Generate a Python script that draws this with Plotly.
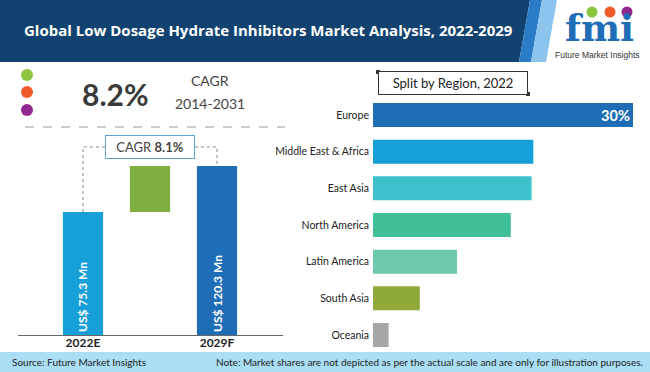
import plotly.graph_objects as go

W, H = 650, 372

def px(x):
    return x / W

def py(y):
    return 1 - y / H

# ---------------- data ----------------
title_text = "Global Low Dosage Hydrate Inhibitors Market Analysis, 2022-2029"
years = ["2022E", "2029F"]
market_values = [75.3, 120.3]
value_labels = ["US$ 75.3 Mn", "US$ 120.3 Mn"]
cagr_forecast = "8.1%"
cagr_headline = "8.2%"
cagr_period = "2014-2031"

regions = ["Europe", "Middle East & Africa", "East Asia", "North America",
           "Latin America", "South Asia", "Oceania"]
region_share = [30, 18.5, 18.3, 15.9, 9.7, 5.4, 1.8]
region_labels = ["30%", "", "", "", "", "", ""]
region_title = "Split by Region, 2022"

source_text = "Source: Future Market Insights"
note_text = "Note: Market shares are not depicted as per the actual scale and are only for illustration purposes."

# ---------------- styles ----------------
NAVY = "#12426f"
BLUE_DARK = "#1f6db6"
BLUE_LIGHT = "#179fda"
GREEN = "#7fb03f"
region_colors = ["#1f6db6", "#179fda", "#3fc1cd", "#40bf98", "#6ec8ad", "#8fa93b", "#a6a6a6"]
Y_FLOOR = -45  # visual floor of the (not-to-scale) market bars

fig = go.Figure()

# Market size bars (2022E, 2029F)
fig.add_trace(go.Bar(
    x=[0, 2], y=[v - Y_FLOOR for v in market_values], base=Y_FLOOR,
    marker=dict(color=[BLUE_LIGHT, BLUE_DARK], line=dict(width=0)),
    width=0.6, text=value_labels, textangle=-90, textposition="inside",
    insidetextanchor="start",
    textfont=dict(family="Lato", size=12, color="white", weight="bold"),
    cliponaxis=False, hoverinfo="skip", xaxis="x", yaxis="y", showlegend=False,
))
# Incremental growth bar
fig.add_trace(go.Bar(
    x=[1], y=[market_values[1] - market_values[0]], base=market_values[0],
    marker=dict(color=GREEN, line=dict(width=0)), width=0.6,
    hoverinfo="skip", xaxis="x", yaxis="y", showlegend=False,
))

# Region bars
fig.add_trace(go.Bar(
    y=regions, x=region_share, orientation="h",
    marker=dict(color=region_colors, line=dict(width=0)), width=0.655,
    text=region_labels, textposition="inside", insidetextanchor="end",
    textfont=dict(family="Lato", size=17, color="white", weight="bold"),
    hoverinfo="skip", xaxis="x2", yaxis="y2", showlegend=False,
))

shapes = []
annotations = []


def note(x, y, text, size, color="#222", family="Lato", xanchor="center", **kw):
    d = dict(x=px(x), y=py(y), xref="paper", yref="paper", text=text, showarrow=False,
             xanchor=xanchor, yanchor="middle",
             font=dict(family=family, size=size, color=color))
    d.update(kw)
    annotations.append(d)


# header
shapes.append(dict(type="path", xref="paper", yref="paper",
                   path=f"M 0,{py(0)} L {px(530)},{py(0)} L {px(519)},{py(62)} L 0,{py(62)} Z",
                   fillcolor=NAVY, line=dict(width=0), layer="below"))
shapes.append(dict(type="path", xref="paper", yref="paper",
                   path=f"M {px(530)},{py(0)} L {px(542)},{py(0)} L {px(531)},{py(62)} L {px(519)},{py(62)} Z",
                   fillcolor="#2b7cc7", line=dict(width=0), layer="below"))
shapes.append(dict(type="path", xref="paper", yref="paper",
                   path=f"M {px(542)},{py(0)} L {px(557)},{py(0)} L {px(546)},{py(62)} L {px(531)},{py(62)} Z",
                   fillcolor="#8cc4ee", line=dict(width=0), layer="below"))
note(268, 30, f"<b>{title_text}</b>", 15, color="white", family="Open Sans")

# logo
for cx, col in zip([592, 610, 627], ["#8cc63f", "#f15a29", "#92278f"]):
    shapes.append(dict(type="circle", xref="paper", yref="paper",
                       x0=px(cx - 5.5), x1=px(cx + 5.5), y0=py(17.5), y1=py(6.5),
                       fillcolor=col, line=dict(width=0)))
note(599, 27.5, "<b>fmi</b>", 37, color="#1f6db6", family="DejaVu Serif")
for yy in [24, 28, 32, 36, 40, 44]:
    shapes.append(dict(type="line", xref="paper", yref="paper", x0=px(552), x1=px(646),
                       y0=py(yy), y1=py(yy), line=dict(color="white", width=1)))
note(597, 55.5, "Future Market Insights", 8.5, color="#333", family="Liberation Sans")

# left top: dots + CAGR
for cy, col in zip([75, 92, 110], ["#8cc63f", "#f15a29", "#92278f"]):
    shapes.append(dict(type="circle", xref="paper", yref="paper",
                       x0=px(21), x1=px(33), y0=py(cy + 6), y1=py(cy - 6),
                       fillcolor=col, line=dict(width=0)))
note(116, 94, f"<b>{cagr_headline}</b>", 30, color="#3a3a3a")
note(210, 80, "CAGR", 14, color="#444")
note(210, 104, cagr_period, 14, color="#444")
shapes.append(dict(type="line", xref="paper", yref="paper", x0=px(25), x1=px(285), y0=py(127), y1=py(127),
                   line=dict(color="#999", width=1, dash="dash")))

# CAGR box + dotted connectors
annotations.append(dict(x=1, y=138.5, xref="x", yref="y", text=f"CAGR <b>{cagr_forecast}</b>",
                        showarrow=False, xanchor="center", yanchor="middle",
                        font=dict(family="Lato", size=13, color="#444"),
                        bordercolor="#5ba3d9", borderwidth=1, borderpad=3, bgcolor="white",
                        width=82))
CONN_Y = 139
shapes.append(dict(type="path", xref="x", yref="y",
                   path=f"M 0,{market_values[0]} L 0,{CONN_Y} L 0.35,{CONN_Y}",
                   line=dict(color="#888", width=1, dash="dot")))
shapes.append(dict(type="path", xref="x", yref="y",
                   path=f"M 1.67,{CONN_Y} L 2,{CONN_Y} L 2,{market_values[1]}",
                   line=dict(color="#888", width=1, dash="dot")))

# region title box
note(453, 83, region_title, 13, color="#222",
     bordercolor="#333", borderwidth=1, borderpad=3, bgcolor="white", width=142)
for (sx, sy) in [(378, 72), (528, 94)]:
    shapes.append(dict(type="rect", xref="paper", yref="paper", x0=px(sx - 2), x1=px(sx + 2),
                       y0=py(sy + 2), y1=py(sy - 2), fillcolor="#333", line=dict(width=0)))

# footer
shapes.append(dict(type="rect", xref="paper", yref="paper", x0=0, x1=1, y0=0, y1=py(352),
                   fillcolor="#a9def4", line=dict(width=0), layer="below"))
note(10, 362, source_text, 10, xanchor="left")
note(645, 362, note_text, 10, xanchor="right")

fig.update_layout(
    width=W, height=H, margin=dict(l=0, r=0, t=0, b=0),
    paper_bgcolor="white", plot_bgcolor="rgba(0,0,0,0)",
    barmode="overlay", shapes=shapes, annotations=annotations,
    xaxis=dict(domain=[px(18), px(283)], range=[-0.97, 2.985], tickvals=[0, 2], ticktext=years,
               tickfont=dict(family="Lato", size=12, color="#222", weight="bold"),
               showline=True, linecolor="#666", linewidth=1, showgrid=False, zeroline=False,
               ticks="", ticklabelstandoff=-3, fixedrange=True),
    yaxis=dict(domain=[py(335), py(140)], range=[Y_FLOOR, 145.8], visible=False, fixedrange=True),
    xaxis2=dict(domain=[px(373), px(633)], range=[0, 30], visible=False, anchor="y2"),
    yaxis2=dict(domain=[py(353.3), py(96.7)], anchor="x2", categoryorder="array",
                categoryarray=regions, autorange="reversed", showgrid=False, zeroline=False,
                showline=False, ticks="", ticklabelstandoff=3,
                tickfont=dict(family="Lato", size=10.5, color="#222")),
    font=dict(family="Lato"),
)

fig.write_html("out.html", config={"displayModeBar": False},
               post_script="document.body.style.margin='0';document.body.style.overflow='hidden';")
